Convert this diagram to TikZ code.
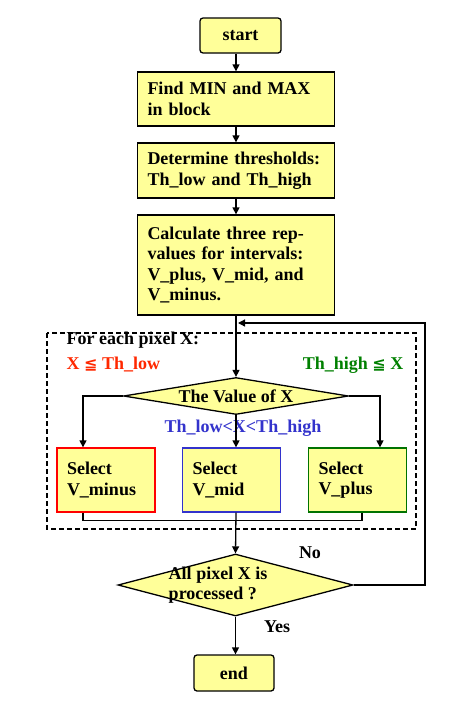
\documentclass[tikz,border=0pt]{standalone}
\usepackage{fontspec}
\setmainfont{Liberation Serif}
\newfontfamily\symf{DejaVu Sans}
\usetikzlibrary{shapes.geometric,arrows.meta}
\definecolor{boxfill}{RGB}{255,255,153}
\definecolor{redtxt}{RGB}{255,40,0}
\definecolor{grntxt}{RGB}{0,128,0}
\definecolor{blutxt}{RGB}{51,51,204}
\begin{document}
\begin{tikzpicture}[x=1pt,y=-1pt,
  font=\fontsize{18}{20.5}\selectfont\bfseries,
  line width=1.3pt,
  arr/.style={-{Triangle[length=7pt,width=7pt]}},
  proc/.style={draw, fill=boxfill, rectangle, minimum width=197pt, text width=177pt, inner xsep=10pt, inner ysep=0pt, align=left},
  term/.style={draw, fill=boxfill, rounded corners=3pt, minimum width=81pt, minimum height=35pt, inner sep=0pt},
  sel/.style={draw, fill=boxfill, rectangle, minimum width=98pt, text width=78pt, inner xsep=10pt, inner ysep=0pt, minimum height=64pt, align=left},
  dec/.style={draw, fill=boxfill, diamond, inner sep=0pt},
  lbl/.style={inner sep=0pt}]
\useasboundingbox (0,0) rectangle (474,710);
% nodes
\node[term] (start) at (240.5,35.5) {start};
\node[proc, minimum height=54pt] (find) at (236,99) {Find MIN and MAX\\in block};
\node[proc, minimum height=55pt] (det) at (236,170.5) {Determine thresholds:\\Th\_low and Th\_high};
\node[proc, minimum height=100pt] (calc) at (236,265) {Calculate three rep-\\values for intervals:\\V\_plus, V\_mid, and\\V\_minus.};
\node[dec, aspect=6, minimum width=225pt, minimum height=37pt] (d1) at (236,396) {The Value of X};
\node[sel, draw=red] (red) at (106,480) {Select\\V\_minus};
\node[sel, draw=blutxt] (blue) at (231.5,480) {Select\\V\_mid};
\node[sel, draw=grntxt!90!black] (green) at (357.5,480) {Select\\V\_plus};
\node[dec, aspect=3.8, minimum width=235pt, minimum height=62pt] (d2) at (235.5,585) {};
\node[lbl, align=left, font=\fontsize{18}{20}\selectfont\bfseries] (d2t) at (218,585) {All pixel X is\\processed ?};
\node[term, minimum width=80pt, minimum height=36pt] (end) at (234,673) {end};
% labels
\node[lbl, anchor=west] (foreach) at (66,340) {For each pixel X:};
\node[lbl, anchor=west, text=redtxt] (lowlbl) at (66,365) {X {\symf\fontsize{16}{16}\selectfont ≦} Th\_low};
\node[lbl, anchor=east, text=grntxt] (highlbl) at (404,365) {Th\_high {\symf\fontsize{16}{16}\selectfont ≦} X};
\node[lbl, text=blutxt] (midlbl) at (243,428) {Th\_low<X<Th\_high};
\node[lbl] (nolbl) at (310,553) {No};
\node[lbl] (yeslbl) at (277,627) {Yes};
% loop frame
\draw[dashed, line width=1.1pt, dash pattern=on 5pt off 3pt] (47,333) rectangle (416,529);
% connectors
\draw[arr] (find.north |- start.south) -- (find.north);
\draw[arr] (find.south) -- (det.north);
\draw[arr] (det.south) -- (calc.north);
\draw[arr] (calc.south) -- (d1.north);
\draw[arr] (d1.west) -| ([xshift=-23pt]red.north);
\draw[arr] (d1.east) -| ([xshift=22.5pt]green.north);
\draw[arr] (d1.south) -- (d1.south |- blue.north);
\draw ([xshift=-23pt]red.south) |- ++(0,8) -| ([xshift=4.5pt]green.south);
\draw[arr] (d1.south |- blue.south) -- (d2.north);
\draw[arr] (d2.east) -| (425,323) -- ([xshift=2pt]d1.north |- 0,323);
\draw[arr] (d2.south) -- (d2.south |- end.north);
\end{tikzpicture}
\end{document}
